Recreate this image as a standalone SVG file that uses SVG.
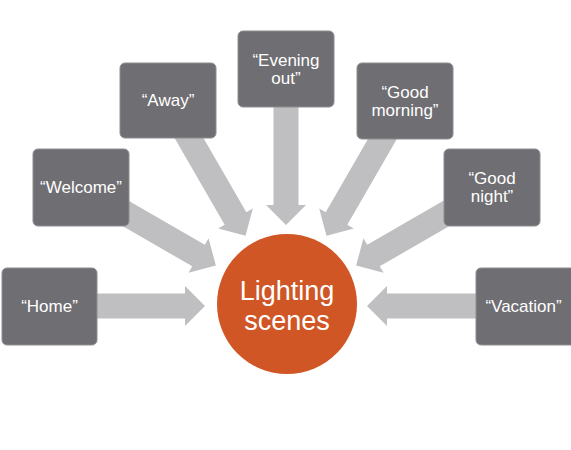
<svg xmlns="http://www.w3.org/2000/svg" width="571" height="450" viewBox="0 0 571 450">
<style>
.box{fill:#6f6e72;stroke:#8e8d91;stroke-width:1}
.lbl{font-family:"Liberation Sans",Arial,sans-serif;font-size:17px;fill:#ffffff;text-anchor:middle}
.arr{fill:#bfbfc1}
.ctr{font-family:"Liberation Sans",Arial,sans-serif;font-size:27px;fill:#ffffff;text-anchor:middle}
</style>
<rect width="571" height="450" fill="#ffffff"/>
<g id="connectors" transform="translate(286,306)">
<polygon class="arr" transform="rotate(180)" points="81,0 101,-20 101,-12.5 200,-12.5 200,12.5 101,12.5 101,20"/>
<polygon class="arr" transform="rotate(210)" points="81,0 101,-20 101,-12.5 195,-12.5 195,12.5 101,12.5 101,20"/>
<polygon class="arr" transform="rotate(240)" points="81,0 101,-20 101,-12.5 205,-12.5 205,12.5 101,12.5 101,20"/>
<polygon class="arr" transform="rotate(270)" points="81,0 101,-20 101,-12.5 205,-12.5 205,12.5 101,12.5 101,20"/>
<polygon class="arr" transform="rotate(300)" points="81,0 101,-20 101,-12.5 205,-12.5 205,12.5 101,12.5 101,20"/>
<polygon class="arr" transform="rotate(330)" points="81,0 101,-20 101,-12.5 195,-12.5 195,12.5 101,12.5 101,20"/>
<polygon class="arr" transform="rotate(0)" points="81,0 101,-20 101,-12.5 200,-12.5 200,12.5 101,12.5 101,20"/>
</g>
<g id="center">
<circle cx="287" cy="304" r="70" fill="#d05626"/>
<text class="ctr" x="287" y="300">Lighting</text>
<text class="ctr" x="287" y="330">scenes</text>
</g>
<g id="home">
<rect class="box" x="2" y="268" width="95" height="77" rx="5"/>
<text class="lbl" x="49.5" y="312">“Home”</text>
</g>
<g id="welcome">
<rect class="box" x="33" y="149" width="96" height="77" rx="5"/>
<text class="lbl" x="81" y="193">“Welcome”</text>
</g>
<g id="away">
<rect class="box" x="120" y="63" width="96" height="75" rx="5"/>
<text class="lbl" x="168" y="106">“Away”</text>
</g>
<g id="evening">
<rect class="box" x="238" y="31" width="96" height="76" rx="5"/>
<text class="lbl" x="286" y="66">“Evening</text>
<text class="lbl" x="286" y="84">out”</text>
</g>
<g id="morning">
<rect class="box" x="357" y="63" width="96" height="76" rx="5"/>
<text class="lbl" x="405" y="98">“Good</text>
<text class="lbl" x="405" y="116">morning”</text>
</g>
<g id="night">
<rect class="box" x="444" y="149" width="96" height="77" rx="5"/>
<text class="lbl" x="492" y="184">“Good</text>
<text class="lbl" x="492" y="202">night”</text>
</g>
<g id="vacation">
<rect class="box" x="476" y="268" width="100" height="77" rx="5"/>
<text class="lbl" x="523.5" y="312">“Vacation”</text>
</g>
</svg>
